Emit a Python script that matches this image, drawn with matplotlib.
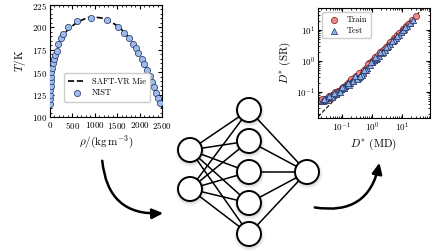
import numpy as np
import matplotlib
matplotlib.use("Agg")
import matplotlib.pyplot as plt
from matplotlib.patches import Circle, FancyArrowPatch

plt.rcParams['font.family'] = 'serif'
plt.rcParams['font.serif'] = ['cmr10', 'DejaVu Serif']
plt.rcParams['mathtext.fontset'] = 'cm'
plt.rcParams['axes.formatter.use_mathtext'] = True
plt.rcParams['axes.unicode_minus'] = False

# left panel: coexistence curve
rho_saft = [1, 3, 6, 10, 16, 25, 38, 55, 80, 115, 160, 230, 320, 430, 560, 700, 850,
            1000, 1150, 1300, 1450, 1600, 1750, 1900, 2050, 2200, 2350, 2500]
T_saft = [100, 112, 120, 128, 136, 144, 152, 159, 166, 172, 178, 186, 193, 199, 204, 208, 211,
          211.5, 210.5, 207.5, 203.5, 197.5, 189, 178.5, 165, 151, 130, 110]

rho_nist = [3, 5, 7, 10, 14, 18, 25, 33, 45, 60, 80, 112, 156, 179, 246, 290, 402, 603, 908,
            1266, 1511, 1659, 1760, 1850, 1912, 1971, 2046, 2105, 2159, 2232, 2284, 2320,
            2366, 2417, 2455]
T_nist = [115, 120, 125, 130, 135, 140, 145, 150, 155, 160, 165, 169, 174, 181, 188, 193, 201,
          207, 211, 208, 201, 194, 188, 181, 177, 171, 165, 159, 152, 146, 139, 133, 127, 121, 116]

# right panel: diffusion coefficients
md_train = [0.020, 0.024, 0.028, 0.033, 0.040, 0.047, 0.055, 0.065, 0.075, 0.090, 0.10, 0.12,
            0.14, 0.16, 0.19, 0.22, 0.26, 0.30, 0.34, 0.40, 0.48, 0.56, 0.65, 0.80, 0.95, 1.1,
            1.3, 1.6, 2.0, 2.4, 3.0, 3.6, 4.5, 5.5, 7.0, 9.0, 11, 14, 18, 22, 28,
            0.022, 0.036, 0.060, 0.11, 0.20, 0.36, 0.75, 1.9, 4.0, 8.0, 16,
            0.027, 0.043, 0.070, 0.13, 0.24, 0.50, 1.2, 2.8, 6.0, 12]
sr_train = [0.050, 0.055, 0.060, 0.066, 0.072, 0.080, 0.088, 0.095, 0.105, 0.12, 0.13, 0.15,
            0.17, 0.19, 0.22, 0.25, 0.29, 0.33, 0.32, 0.38, 0.45, 0.52, 0.60, 0.85, 0.95, 1.1,
            1.3, 1.55, 1.9, 2.3, 2.9, 3.5, 4.3, 5.4, 6.8, 8.5, 10.5, 13, 17, 21, 28,
            0.058, 0.074, 0.098, 0.15, 0.26, 0.40, 0.78, 2.0, 4.1, 7.9, 16,
            0.050, 0.064, 0.085, 0.14, 0.22, 0.40, 1.0, 2.4, 5.2, 10.5]

md_test = [0.022, 0.026, 0.030, 0.035, 0.042, 0.050, 0.060, 0.070, 0.080, 0.095, 0.11, 0.13,
           0.15, 0.18, 0.21, 0.25, 0.29, 0.33, 0.38, 0.44, 0.50, 0.60, 0.70, 0.85, 1.0, 1.2,
           1.4, 1.7, 2.1, 2.6, 3.2, 4.0, 5.0, 6.2, 7.8, 9.5, 12, 15, 19, 24,
           0.030, 0.045, 0.065, 0.085, 0.12, 0.17, 0.23, 0.32, 0.45, 0.65, 1.5, 2.3, 3.5, 5.5,
           0.025, 0.038, 0.055, 0.10, 0.16, 0.27, 0.40, 0.55, 0.90, 1.3, 1.9, 3.0, 4.5, 7.0,
           10.5, 13]
sr_test = [0.052, 0.056, 0.062, 0.068, 0.075, 0.082, 0.090, 0.10, 0.11, 0.125, 0.135, 0.155,
           0.175, 0.20, 0.23, 0.27, 0.31, 0.28, 0.30, 0.36, 0.42, 0.50, 0.58, 0.75, 0.90, 1.05,
           1.2, 1.5, 1.85, 2.3, 2.85, 3.6, 4.5, 5.6, 7.0, 8.6, 10.8, 13.5, 17, 21,
           0.055, 0.068, 0.085, 0.10, 0.13, 0.17, 0.22, 0.27, 0.36, 0.52, 1.25, 1.95, 3.0, 4.8,
           0.058, 0.072, 0.090, 0.14, 0.20, 0.33, 0.33, 0.50, 0.95, 1.35, 1.9, 2.9, 4.3, 6.6,
           9.8, 12.2]

fig = plt.figure(figsize=(4.48, 2.52), dpi=100)

# background layer in pixel coordinates for the network and arrows
bg = fig.add_axes([0, 0, 1, 1])
bg.set_xlim(0, 448)
bg.set_ylim(252, 0)
bg.axis('off')

inputs = [(190, 150), (190, 189)]
hidden = [(249, 110), (249, 141), (249, 172), (249, 203), (249, 234)]
output = [(307, 172)]
r = 12

for a in inputs:
    for b in hidden:
        bg.plot([a[0], b[0]], [a[1], b[1]], color='black', lw=1.1, zorder=1)
for a in hidden:
    for b in output:
        bg.plot([a[0], b[0]], [a[1], b[1]], color='black', lw=1.1, zorder=1)

for (cx, cy) in inputs + hidden + output:
    # soft drop shadow
    for k in range(4):
        bg.add_patch(Circle((cx + 0.5, cy + 1.5), r + 0.5 + k * 0.9, color='black',
                            alpha=0.035, lw=0, zorder=2))
    bg.add_patch(Circle((cx, cy), r, facecolor='white', edgecolor='black', lw=1.4, zorder=3))

arr1 = FancyArrowPatch((102, 158), (166, 213), connectionstyle="arc3,rad=0.5",
                       arrowstyle="-|>,head_length=6.5,head_width=3", lw=1.8, color='black')
arr2 = FancyArrowPatch((312, 207), (380, 160), connectionstyle="arc3,rad=0.5",
                       arrowstyle="-|>,head_length=6.5,head_width=3", lw=1.8, color='black')
bg.add_patch(arr1)
bg.add_patch(arr2)

# left chart
ax1 = fig.add_axes([50 / 448, 1 - 117 / 252, 112 / 448, 112 / 252])
ax1.plot(rho_saft, T_saft, '--', color='black', lw=1.2, label='SAFT-VR Mie', zorder=2)
ax1.scatter(rho_nist, T_nist, s=20, facecolor='#9dbbea', edgecolor='#1f2f5f', lw=0.5,
            label='NIST', zorder=3)
ax1.set_xlim(0, 2500)
ax1.set_ylim(100, 225)
ax1.set_xticks([0, 500, 1000, 1500, 2000, 2500])
ax1.set_yticks([100, 125, 150, 175, 200, 225])
ax1.minorticks_on()
ax1.tick_params(which='both', direction='in', top=True, right=True, labelsize=6.5, pad=2)
ax1.tick_params(which='major', length=3)
ax1.tick_params(which='minor', length=1.5)
ax1.set_xlabel(r'$\rho/(\mathrm{kg\,m^{-3}})$', fontsize=8, labelpad=2)
ax1.set_ylabel(r'$T/\mathrm{K}$', fontsize=8, labelpad=3)
ax1.legend(loc='lower left', bbox_to_anchor=(0.09, 0.1), fontsize=6, handlelength=2,
           borderpad=0.5, labelspacing=0.4, framealpha=1)

# right chart
ax2 = fig.add_axes([318 / 448, 1 - 118 / 252, 112 / 448, 110 / 252])
lims = [10 ** -1.8, 10 ** 1.93]
ax2.plot(lims, lims, '--', color='black', lw=0.8, zorder=1)
ax2.scatter(md_train, sr_train, s=20, marker='o', facecolor='#f08a8a', edgecolor='#7a1a1a',
            lw=0.5, label='Train', zorder=2)
ax2.scatter(md_test, sr_test, s=20, marker='^', facecolor='#8fb2ea', edgecolor='#1f2f5f',
            lw=0.5, label='Test', zorder=3)
ax2.set_xscale('log')
ax2.set_yscale('log')
ax2.set_xlim(10 ** -1.8, 10 ** 1.93)
ax2.set_ylim(10 ** -1.84, 10 ** 1.71)
ax2.tick_params(which='both', direction='in', top=True, right=True, labelsize=6.5, pad=2)
ax2.tick_params(which='major', length=3)
ax2.tick_params(which='minor', length=1.5)
ax2.set_xlabel(r'$D^{*}$ (MD)', fontsize=8, labelpad=2)
ax2.set_ylabel(r'$D^{*}$ (SR)', fontsize=8, labelpad=2)
ax2.legend(loc='upper left', fontsize=6, handletextpad=0.6, borderpad=0.4,
           labelspacing=0.3, framealpha=1)

fig.savefig('out.png', dpi=100)
